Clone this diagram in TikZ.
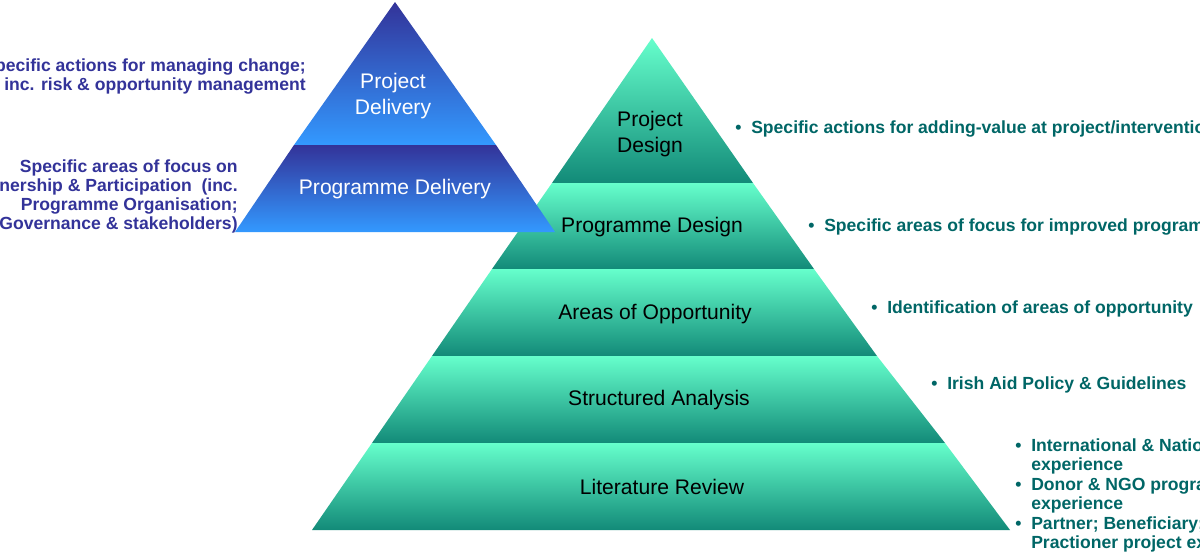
\documentclass[tikz,border=0pt]{standalone}
\usepackage{fontspec}
\setmainfont{Liberation Sans}
\definecolor{lblue}{HTML}{3399FF}
\definecolor{dblue}{HTML}{333399}
\definecolor{lcyan}{HTML}{66FFCC}
\definecolor{dteal}{HTML}{128A78}
\definecolor{tealtxt}{HTML}{006666}
\tikzset{
  band/.style={top color=lcyan, bottom color=dteal},
  bband/.style={top color=dblue, bottom color=lblue},
  plabel/.style={font=\fontsize{12}{14.5}\selectfont, align=center, text=black},
  blabel/.style={font=\fontsize{12}{14.5}\selectfont, align=center, text=white},
  ltext/.style={font=\fontsize{10}{10.8}\selectfont\bfseries, text=dblue, align=right, anchor=north east, inner sep=0pt},
  rtext/.style={font=\fontsize{10}{10.8}\selectfont\bfseries, text=tealtxt, align=left, anchor=west, inner sep=0pt},
}
\begin{document}
\begin{tikzpicture}[x=0.02cm,y=-0.02cm]
\useasboundingbox (0,0) rectangle (1200,558);
\clip (0,0) rectangle (1200,558);
% big pyramid
\shade[band] (652,38) -- (753,183) -- (552,183) -- cycle;
\shade[band] (552,183) -- (753,183) -- (814,269) -- (492,269) -- cycle;
\shade[band] (492,269) -- (814,269) -- (877,356) -- (432,356) -- cycle;
\shade[band] (432,356) -- (877,356) -- (945,443) -- (372,443) -- cycle;
\shade[band] (372,443) -- (945,443) -- (1010,530) -- (312,530) -- cycle;
% small pyramid
\shade[bband] (395,2) -- (496,145) -- (294,145) -- cycle;
\shade[bband] (294,145) -- (496,145) -- (555,232) -- (235,232) -- cycle;
% labels
\node[plabel] (pd) at (650,134) {Project\\Design};
\node[plabel] (prd) at (652,227) {Programme Design};
\node[plabel] (ao) at (655,314) {Areas of Opportunity};
\node[plabel] (sa) at (659,400) {Structured Analysis};
\node[plabel] (lr) at (662,487) {Literature Review};
\node[blabel] (pjd) at (393,96) {Project\\Delivery};
\node[blabel] (pgd) at (395,189) {Programme Delivery};
% left texts
\node[ltext] (l1) at (306,58) {Specific actions for managing change;\\inc. risk \& opportunity management};
\node[ltext] (l2) at (238,159) {Specific areas of focus on\\Partnership \& Participation\ \ (inc.\\Programme Organisation;\\Governance \& stakeholders)};
% right texts
\node[rtext] (r1) at (735,129) {•\ \ Specific actions for adding-value at project/intervention level};
\node[rtext] (r2) at (808,227) {•\ \ Specific areas of focus for improved programme design};
\node[rtext] (r3) at (871,309) {•\ \ Identification of areas of opportunity};
\node[rtext] (r4) at (931,385) {•\ \ Irish Aid Policy \& Guidelines};
\node[rtext,anchor=north west] (r5) at (1015,438) {•\ \ \begin{tabular}[t]{@{}l@{}}International \& National\\experience\end{tabular}};
\node[rtext,anchor=north west] (r6) at (1015,477) {•\ \ \begin{tabular}[t]{@{}l@{}}Donor \& NGO programme\\experience\end{tabular}};
\node[rtext,anchor=north west] (r7) at (1015,516) {•\ \ \begin{tabular}[t]{@{}l@{}}Partner; Beneficiary;\\Practioner project experience\end{tabular}};
\end{tikzpicture}
\end{document}
